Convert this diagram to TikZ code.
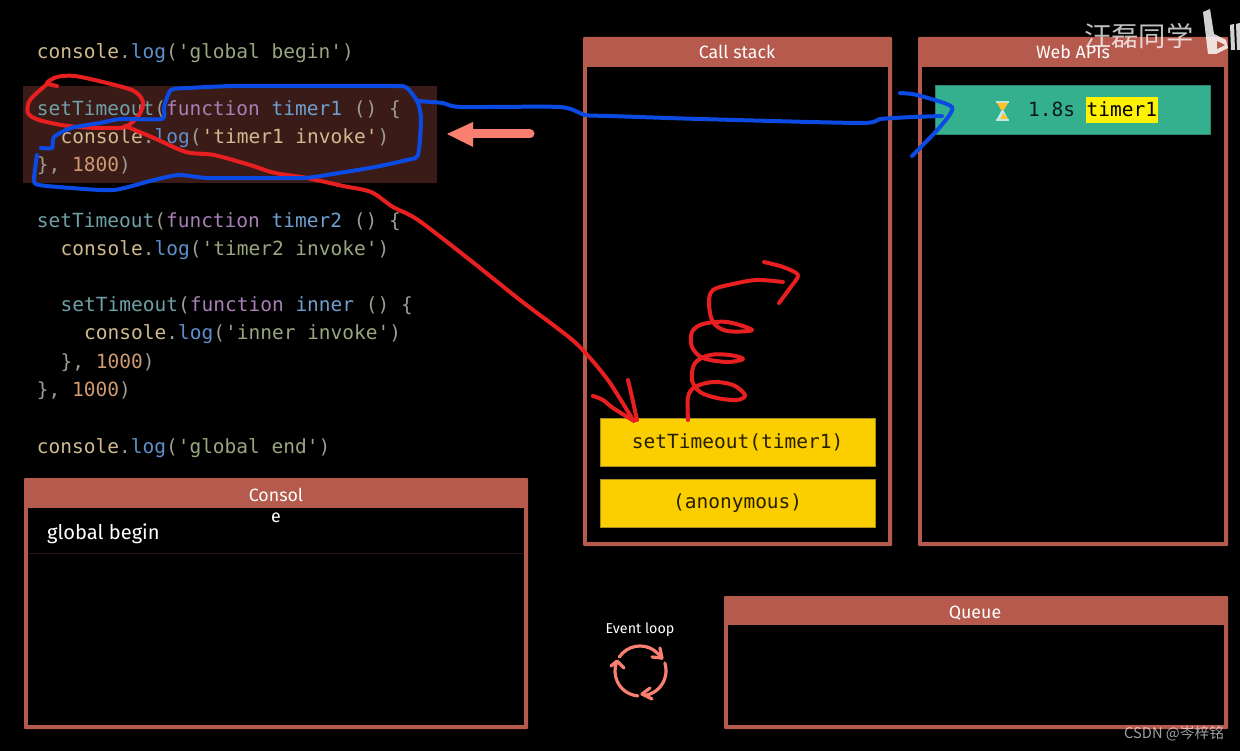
\documentclass[tikz,border=0pt]{standalone}
\usepackage{fontspec}
\usetikzlibrary{arrows.meta}
\setmainfont{Fira Sans}
\newfontfamily\codefont{DejaVu Sans Mono}
\newfontfamily\cjkfont{Noto Sans CJK SC}
\definecolor{headc}{HTML}{B55A4D}
\definecolor{hlbg}{HTML}{3A1B18}
\definecolor{salmon}{HTML}{F98070}
\definecolor{redink}{HTML}{E81F20}
\definecolor{blueink}{HTML}{0B4BE3}
\definecolor{teal}{HTML}{35B08F}
\definecolor{tealb}{HTML}{2E8470}
\definecolor{stack}{HTML}{FBCE00}
\definecolor{stackb}{HTML}{A88C20}
\definecolor{cobj}{HTML}{D0BA8E}
\definecolor{clog}{HTML}{5F8FCC}
\definecolor{cpun}{HTML}{9C9C90}
\definecolor{cstr}{HTML}{9AA67F}
\definecolor{cset}{HTML}{6FA0A8}
\definecolor{cfun}{HTML}{A97FB5}
\definecolor{cnam}{HTML}{6F9FCF}
\definecolor{cnum}{HTML}{D09A70}
\newcommand{\co}[1]{\textcolor{cobj}{#1}}
\newcommand{\cl}[1]{\textcolor{clog}{#1}}
\newcommand{\cp}[1]{\textcolor{cpun}{#1}}
\newcommand{\cs}[1]{\textcolor{cstr}{#1}}
\newcommand{\ct}[1]{\textcolor{cset}{#1}}
\newcommand{\cf}[1]{\textcolor{cfun}{#1}}
\newcommand{\cn}[1]{\textcolor{cnam}{#1}}
\newcommand{\cd}[1]{\textcolor{cnum}{#1}}
\tikzset{
  codeline/.style={anchor=base west,inner sep=0pt,font=\codefont\fontsize{19.5}{22}\selectfont},
  title/.style={anchor=base,inner sep=0pt,text=white,font=\fontsize{17.8}{22}\selectfont},
  stackbox/.style={anchor=north west,inner sep=0pt,fill=stack,draw=stackb,line width=.8pt,minimum width=274.5pt,minimum height=48pt,text=black!85!stack,font=\codefont\fontsize{19.5}{22}\selectfont},
  redstroke/.style={draw=redink,line width=4pt,line cap=round,line join=round},
  bluestroke/.style={draw=blueink,line width=4pt,line cap=round,line join=round},
  loopstroke/.style={draw=salmon,line width=3.2pt,line cap=round,line join=round},
}
\begin{document}
\begin{tikzpicture}[x=1pt,y=-1pt]
\useasboundingbox (0,0) rectangle (1240,751);
\fill[black] (0,0) rectangle (1240,751);
% highlight
\fill[hlbg] (23,86) rectangle (437,183);
% code
\node[codeline] (l1) at (36.7,59) {\co{console}\cp{.}\cl{log}\cp{(}\cs{'global begin'}\cp{)}};
\node[codeline] (l2) at (36.7,116) {\ct{setTimeout}\cp{(}\cf{function} \cn{timer1} \cp{() \{}};
\node[codeline] (l3) at (60.5,144) {\co{console}\cp{.}\cl{log}\cp{(}\co{'timer1 invoke'}\cp{)}};
\node[codeline] (l4) at (36.7,172) {\cp{\},} \cd{1800}\cp{)}};
\node[codeline] (l5) at (36.7,228) {\ct{setTimeout}\cp{(}\cf{function} \cn{timer2} \cp{() \{}};
\node[codeline] (l6) at (60.5,256) {\co{console}\cp{.}\cl{log}\cp{(}\cs{'timer2 invoke'}\cp{)}};
\node[codeline] (l7) at (60.5,312) {\ct{setTimeout}\cp{(}\cf{function} \cn{inner} \cp{() \{}};
\node[codeline] (l8) at (84,340) {\co{console}\cp{.}\cl{log}\cp{(}\cs{'inner invoke'}\cp{)}};
\node[codeline] (l9) at (60.5,368) {\cp{\},} \cd{1000}\cp{)}};
\node[codeline] (l10) at (36.7,396) {\cp{\},} \cd{1000}\cp{)}};
\node[codeline] (l11) at (36.7,453) {\co{console}\cp{.}\cl{log}\cp{(}\cs{'global end'}\cp{)}};
% panels
\fill[headc,rounded corners=1pt] (583,37) rectangle (892,546);
\fill[black] (587,67) rectangle (888,542);
\fill[headc,rounded corners=1pt] (918,37) rectangle (1228,546);
\fill[black] (922,67) rectangle (1224,542);
\fill[headc,rounded corners=1pt] (24,478) rectangle (528,729);
\fill[black] (28,508) rectangle (524,725);
\fill[headc,rounded corners=1pt] (724,596) rectangle (1228,729);
\fill[black] (728,625) rectangle (1224,725);
\node[title] (callt) at (737,59) {Call stack};
\node[title] (webt) at (1073,59) {Web APIs};
\node[title] (queuet) at (975,618) {Queue};
\node[title] (const) at (276,501) {Consol};
\node[title] (conse) at (276,522.5) {e};
\node[anchor=base west,inner sep=0pt,text=white,font=\fontsize{20.1}{24}\selectfont] (glob) at (47,539) {global begin};
\draw[hlbg!70!black,line width=1pt] (28,553.5) -- (524,553.5);
% stack frames
\node[stackbox] (f1) at (600,418) {setTimeout(timer1)};
\node[stackbox] (f2) at (600,479) {(anonymous)};
% web api entry
\node[anchor=north west,inner sep=0pt,fill=teal,draw=tealb,line width=1pt,minimum width=275pt,minimum height=49pt] (entry) at (935,85.5) {};
\fill[white!70!teal] (996,101) rectangle (1009,103);
\fill[white!70!teal] (996,119) rectangle (1009,121);
\fill[orange!55!yellow!85!white] (997,103) -- (1008,103) -- (1003.5,110.5) -- (1001.5,110.5) -- cycle;
\fill[cyan!25!white] (1001.5,110.5) -- (1003.5,110.5) -- (1008,119) -- (997,119) -- cycle;
\fill[orange!55!yellow!85!white] (1003,113) -- (1008,119) -- (1000,119) -- cycle;
\node[anchor=base west,inner sep=0pt,text=black!85!teal,font=\codefont\fontsize{19.5}{22}\selectfont] (dur) at (1028,117) {1.8s};
\node[anchor=base west,fill=yellow,inner xsep=.5pt,inner ysep=0pt,text height=20pt,text depth=6pt,text=black,font=\codefont\fontsize{19.5}{22}\selectfont] (tm) at (1086,117) {timer1};
% pointer arrow
\draw[salmon,line width=9pt,line cap=round] (472,134) -- (530,134);
\fill[salmon] (447,134) -- (473,122) -- (473,147) -- cycle;
% event loop
\node[anchor=base,inner sep=0pt,text=white,font=\fontsize{14.3}{16}\selectfont] (evt) at (640,633) {Event loop};
\coordinate (loopc) at (640,671);
\draw[loopstroke] (619.3,657) arc[start angle=-146,end angle=-30,radius=25];
\draw[loopstroke] (660,648) -- (662,658) -- (652,657);
\draw[loopstroke] (664.8,663) arc[start angle=-18,end angle=80,radius=25];
\draw[loopstroke] (650,688) -- (642,694) -- (652,699);
\draw[loopstroke] (637.8,695.9) arc[start angle=95,end angle=200,radius=25];
\draw[loopstroke] (611,666) -- (617,661) -- (624,668);
% red freehand
\draw[redstroke] plot[smooth,tension=.5] coordinates {(57,86) (47,83) (57,77) (75,76) (107,83) (134,91) (143,102) (139,115) (125,127) (100,128) (68,126) (39,120) (28,113) (30,100) (46,85)};
\draw[redstroke] plot[smooth,tension=.5] coordinates {(125,126) (154,138) (186,152) (214,155) (250,165) (275,173) (307,178) (343,186) (371,192) (393,207) (418,220) (470,260) (520,300) (570,338) (590,358) (610,383) (633,420)};
\draw[redstroke] plot[smooth,tension=.5] coordinates {(628,380) (632,397) (637,420)};
\draw[redstroke] plot[smooth,tension=.5] coordinates {(593,396) (603,400) (613,408) (634,421)};
\draw[redstroke] plot[smooth,tension=.55] coordinates {(688,420) (688,397) (695,387) (713,382) (733,385) (745,395) (737,400) (717,398) (700,392) (692,380) (695,363) (710,355) (730,355) (743,359) (727,362) (703,358) (692,347) (692,332) (703,324) (727,322) (752,330) (727,331) (713,322) (709,303) (713,290) (733,284) (757,280) (783,282)};
\draw[redstroke] plot[smooth,tension=.5] coordinates {(764,262) (783,267) (798,275) (790,288) (779,303)};
% blue freehand
\draw[bluestroke] plot[smooth,tension=.4] coordinates {(41,148) (52,148) (54,137) (71,128) (100,123) (121,119) (162,119) (164,107) (171,90) (189,88) (232,86) (286,86) (393,86) (407,88) (418,103) (421,120) (418,155) (407,160) (375,167) (339,173) (304,178) (250,178) (207,178) (179,175) (154,180) (114,190) (71,188) (39,185) (34,180) (37,155)};
\draw[bluestroke] plot[smooth,tension=.4] coordinates {(418,101) (443,103) (461,107) (560,107) (585,115) (610,116) (700,119) (860,123) (880,119) (913,117) (942,116)};
\draw[bluestroke] plot[smooth,tension=.4] coordinates {(900,93) (917,95) (952,107) (940,127) (912,156)};
% watermarks
\node[anchor=base west,inner sep=0pt,text=white,opacity=.75,font=\cjkfont\fontsize{27.3}{30}\selectfont] (wm) at (1084,47) {汪磊同学};
\begin{scope}[opacity=.82]
\fill[white] (1203,12) -- (1210,9) -- (1214,34) -- (1226,40) -- (1228,48) -- (1216,54) -- (1208,54) -- cycle;
\fill[white] (1230,25) -- (1234,24) -- (1235,50) -- (1231,50) -- cycle;
\fill[white] (1236,24) -- (1240,23) -- (1240,50) -- (1237,50) -- cycle;
\end{scope}
\fill[headc] (1217,41) -- (1225,45) -- (1217,49) -- cycle;
\node[anchor=base west,inner sep=0pt,text=white,opacity=.62,font=\cjkfont\fontsize{14.7}{16}\selectfont] (csdn) at (1124,738) {CSDN @岑梓铭};
\end{tikzpicture}
\end{document}
